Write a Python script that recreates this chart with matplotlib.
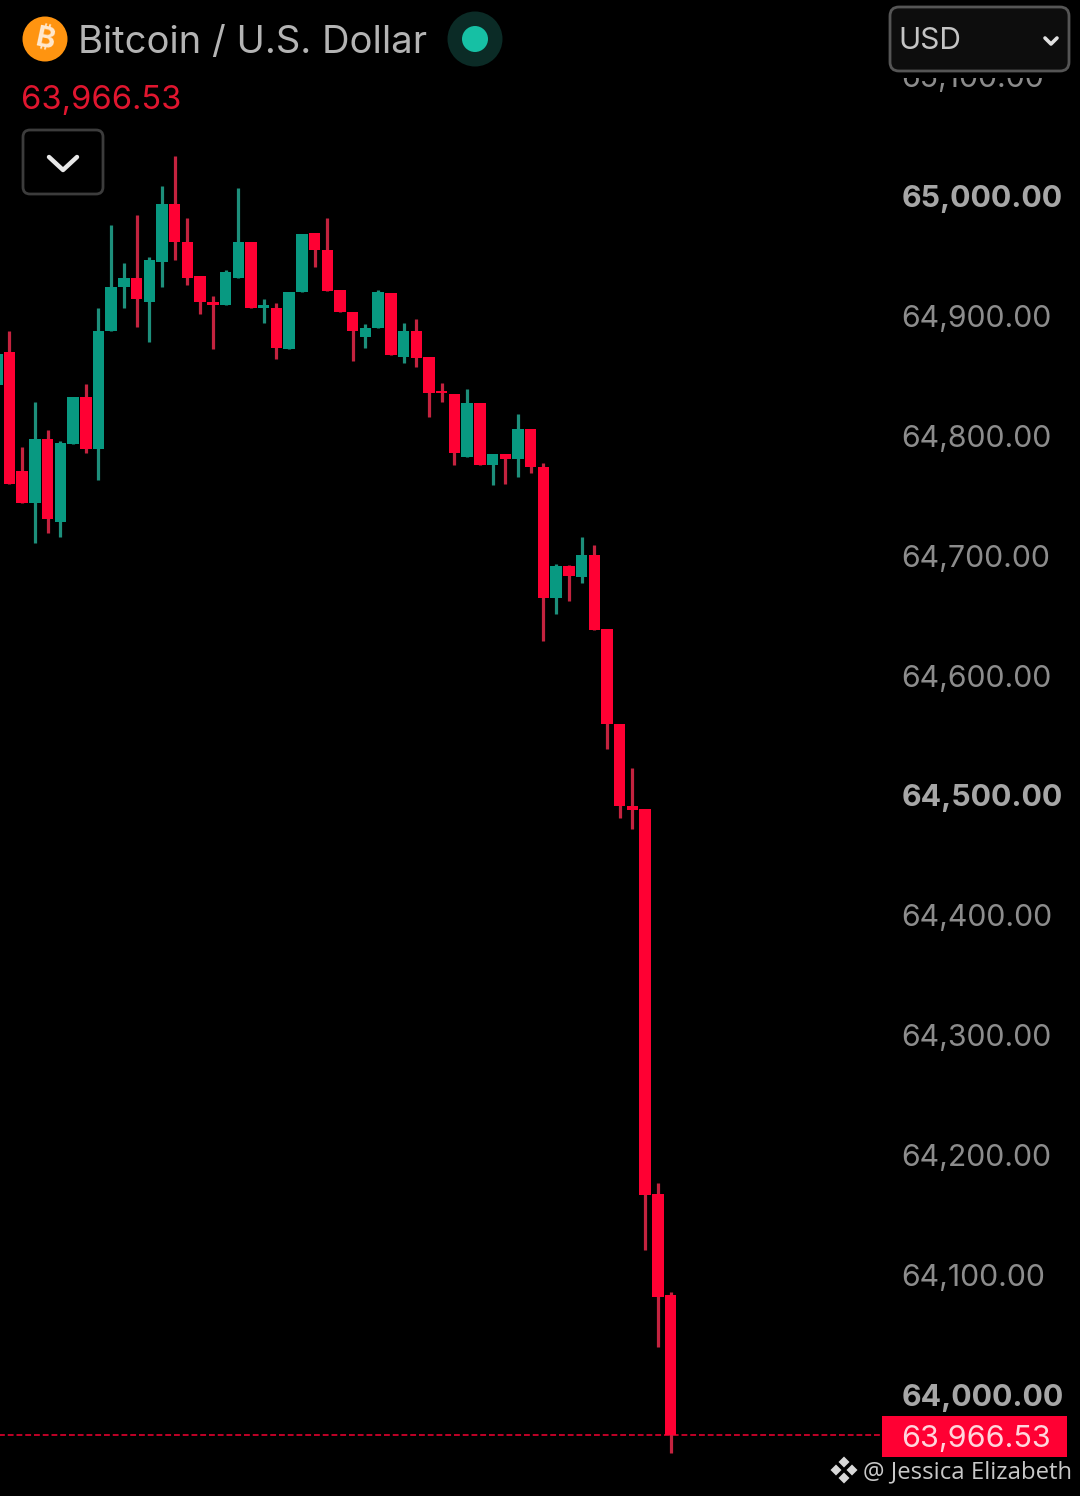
import numpy as np
import matplotlib
matplotlib.use("Agg")
import matplotlib.pyplot as plt
from matplotlib.patches import FancyBboxPatch, Circle, Rectangle, Polygon

# candles, left to right
opens = [64842, 64870, 64771, 64744, 64797, 64728, 64793, 64832, 64789, 64887,
         64924, 64932, 64912, 64945, 64993, 64962, 64933, 64912, 64909, 64932,
         64962, 64907, 64907, 64872, 64920, 64969, 64955, 64922, 64903, 64882,
         64890, 64919, 64866, 64887, 64866, 64837, 64835, 64782, 64827, 64776,
         64785, 64781, 64806, 64774, 64665, 64691, 64682, 64701, 64639, 64560,
         64491, 64489, 64168, 64083]
closes = [64868, 64760, 64744, 64797, 64731, 64794, 64832, 64789, 64887, 64924,
          64932, 64914, 64947, 64993, 64962, 64932, 64912, 64909, 64937, 64962,
          64907, 64909, 64873, 64920, 64968, 64955, 64921, 64903, 64887, 64890,
          64920, 64867, 64887, 64865, 64836, 64836, 64786, 64827, 64776, 64785,
          64781, 64806, 64774, 64665, 64691, 64683, 64701, 64638, 64560, 64491,
          64488, 64167, 64082, 63966.53]
highs = [64868, 64887, 64791, 64828, 64805, 64796, 64832, 64843, 64907, 64976,
         64944, 64984, 64949, 65008, 65033, 64982, 64933, 64917, 64938, 65007,
         64962, 64914, 64911, 64920, 64968, 64969, 64982, 64922, 64903, 64893,
         64922, 64919, 64894, 64897, 64866, 64844, 64835, 64839, 64827, 64785,
         64785, 64818, 64806, 64777, 64693, 64692, 64716, 64709, 64639, 64560,
         64523, 64489, 64177, 64086]
lows = [64842, 64760, 64744, 64711, 64719, 64716, 64793, 64786, 64763, 64887,
        64907, 64891, 64878, 64924, 64947, 64926, 64902, 64872, 64909, 64932,
        64907, 64894, 64864, 64872, 64920, 64941, 64921, 64903, 64862, 64873,
        64890, 64867, 64861, 64857, 64816, 64828, 64776, 64782, 64776, 64759,
        64760, 64766, 64769, 64629, 64651, 64662, 64677, 64638, 64539, 64481,
        64472, 64121, 64040, 63952]

price_ticks = [64000, 64100, 64200, 64300, 64400, 64500, 64600, 64700, 64800, 64900, 65000, 65100]
bold_ticks = [64000, 64500, 65000]
last_price = 63966.53

UP = "#089981"
DOWN = "#ff0033"
UP_WICK = "#1d8f7b"
DOWN_WICK = "#c4233f"
FONT = "Inter"

W, H = 1080, 1496
fig = plt.figure(figsize=(W / 100, H / 100), dpi=100, facecolor="black")

# main chart fills the whole picture
ax = fig.add_axes([0, 0, 1, 1], facecolor="black")
x = np.arange(-1, len(opens) - 1)
o, c, h, l = map(np.array, (opens, closes, highs, lows))
up = c >= o
ax.vlines(x[up], l[up], h[up], color=UP_WICK, lw=2.3, zorder=2)
ax.vlines(x[~up], l[~up], h[~up], color=DOWN_WICK, lw=2.3, zorder=2)
ax.bar(x, np.abs(c - o), bottom=np.minimum(o, c), width=0.9,
       color=np.where(up, UP, DOWN), lw=0, zorder=3)
ax.hlines(last_price, -1, 68.5, color=DOWN, lw=1.4, ls=(0, (3, 1.5)), alpha=0.75, zorder=1)

ax.set_xlim(-0.747, 84.2)
ax.set_ylim(65000 - (1496 - 196) / 1.199, 65000 + 196 / 1.199)
for s in ax.spines.values():
    s.set_visible(False)
ax.set_xticks([])
ax.yaxis.tick_right()
ax.set_yticks(price_ticks)
ax.set_yticklabels([f"{p:,.2f}" for p in price_ticks])
ax.tick_params(axis="y", length=0, pad=-128.5, labelsize=21.8, labelcolor="#8c8c8c")
for lab, p in zip(ax.get_yticklabels(), price_ticks):
    lab.set_fontfamily(FONT)
    lab.set_ha("left")
    if p in bold_ticks:
        lab.set_fontweight("bold")
        lab.set_color("#a6a6a6")

# overlay in pixels for the app's header and labels
ui = fig.add_axes([0, 0, 1, 1], facecolor="none")
ui.set_xlim(0, W)
ui.set_ylim(H, 0)
ui.axis("off")

ui.add_patch(Circle((45, 39), 22.5, fc="#ff9410", ec="none"))
ui.text(45, 40, "\u20bf", color="#ffe9cf", fontsize=21, fontweight="bold",
        family=["Inter", "Noto Sans", "Roboto", "Open Sans", "Lato", "Liberation Sans"],
        ha="center", va="center", rotation=-12)
ui.text(78, 43, "Bitcoin / U.S. Dollar", color="#b4b4b4", fontsize=27.5, family=FONT, va="center")
ui.add_patch(Circle((475, 39), 27.5, fc="#0b2b26", ec="none"))
ui.add_patch(Circle((475, 39), 13, fc="#16c0a4", ec="none"))
ui.text(21, 100, "63,966.53", color="#e0162f", fontsize=23.5, family=FONT, va="center")

ui.add_patch(FancyBboxPatch((23, 130), 80, 64, boxstyle="round,pad=0,rounding_size=7",
                            fc="black", ec="#3c3c3c", lw=2))
ui.plot([49, 63, 77], [157, 170, 157], color="#e8e8e8", lw=3.2, solid_capstyle="round")

# the currency box hides the top of the 65,100 label
ui.add_patch(Rectangle((890, 60), 179, 18, fc="black", ec="none"))
ui.add_patch(FancyBboxPatch((890, 7), 179, 64, boxstyle="round,pad=0,rounding_size=9",
                            fc="#0d0d0d", ec="#555555", lw=2))
ui.text(898, 41, "USD", color="#c4c4c4", fontsize=21.5, family=FONT, va="center")
ui.plot([1045, 1051, 1057], [38, 44, 38], color="#e0e0e0", lw=2.6, solid_capstyle="round")

ui.add_patch(Rectangle((882, 1416), 185, 41, fc=DOWN, ec="none"))
ui.text(901, 1439, "63,966.53", color="#ffd5dc", fontsize=22, family=FONT, va="center")

# watermark, small diamond logo and name
for dx, dy in [(0, -8), (0, 8), (-8, 0), (8, 0)]:
    cx, cy = 844 + dx, 1470 + dy
    ui.add_patch(Polygon([(cx, cy - 5.5), (cx + 5.5, cy), (cx, cy + 5.5), (cx - 5.5, cy)],
                         fc="#d8d8d8", ec="none"))
ui.text(863, 1472, "@ Jessica Elizabeth", color="#c8c8c8", fontsize=17.2, family="Open Sans", va="center")

fig.savefig("out.png", dpi=100, facecolor="black")
